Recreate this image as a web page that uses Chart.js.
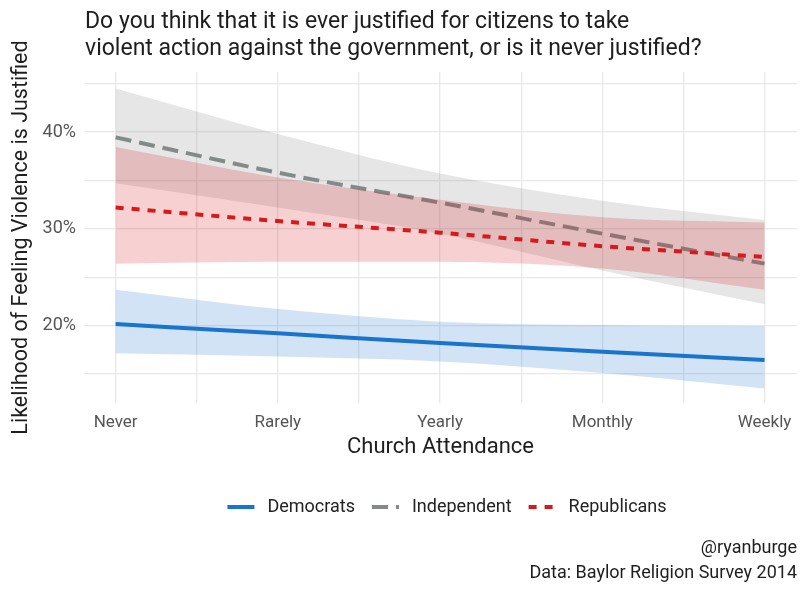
<!DOCTYPE html>
<html>
<head>
<meta charset="utf-8">
<script src="https://cdn.jsdelivr.net/npm/chart.js@4.4.1/dist/chart.umd.min.js"></script>
<style>
  html, body { margin: 0; padding: 0; background: #fff; }
  canvas { display: block; }
</style>
</head>
<body>
<canvas id="chart" width="807" height="596"></canvas>
<script>
// values (percent)
const categories = ['Never', 'Rarely', 'Yearly', 'Monthly', 'Weekly'];
const yTicks = [15, 20, 25, 30, 35, 40, 45];

const demFit = [20.15, 19.2, 18.2, 17.3, 16.45];
const demUpper = [23.7, 21.7, 20.4, 20.05, 19.95];
const demLower = [17.15, 16.8, 16.3, 15.1, 13.5];

const indFit = [39.45, 35.8, 32.7, 29.5, 26.4];
const indUpper = [44.5, 39.8, 35.7, 32.9, 30.9];
const indLower = [34.7, 32.2, 29.5, 25.7, 22.2];

const repFit = [32.2, 30.8, 29.6, 28.2, 27.1];
const repUpper = [38.45, 35.3, 33.0, 31.2, 30.65];
const repLower = [26.4, 26.6, 26.6, 25.9, 23.7];

const titleLines = [
    'Do you think that it is ever justified for citizens to take',
    'violent action against the government, or is it never justified?',
];
const captionLines = ['@ryanburge', 'Data: Baylor Religion Survey 2014'];

const BLUE = '#1874cd';
const GREY = '#828a8a';
const RED = '#d7191c';

const toPoints = (values) => values.map((y, i) => ({ x: i, y }));

function lineSet(label, values, color, dash, order) {
    return {
        label,
        data: toPoints(values),
        borderColor: color,
        borderWidth: 4,
        borderDash: dash,
        pointRadius: 0,
        fill: false,
        cubicInterpolationMode: 'monotone',
        order,
        inLegend: true,
    };
}

function bandSet(upper, lower, fillColor, order) {
    const common = {
        borderWidth: 0,
        pointRadius: 0,
        cubicInterpolationMode: 'monotone',
        order,
    };
    return [
        { ...common, label: 'upper', data: toPoints(upper), fill: '+1', backgroundColor: fillColor },
        { ...common, label: 'lower', data: toPoints(lower), fill: false },
    ];
}

const datasets = [
    ...bandSet(demUpper, demLower, 'rgba(24,116,205,0.2)', 6),
    ...bandSet(indUpper, indLower, 'rgba(128,128,128,0.2)', 5),
    ...bandSet(repUpper, repLower, 'rgba(215,25,28,0.2)', 2),
    lineSet('Democrats', demFit, BLUE, [], 4),
    lineSet('Independent', indFit, GREY, [16, 8], 3),
    lineSet('Republicans', repFit, RED, [8, 8], 1),
];

const textPlugin = {
    id: 'texts',
    afterDraw(chart) {
        const { ctx, chartArea } = chart;
        ctx.save();

        // title
        ctx.fillStyle = '#1e1e1e';
        ctx.font = '23px Roboto';
        ctx.textAlign = 'left';
        ctx.textBaseline = 'middle';
        titleLines.forEach((t, i) => ctx.fillText(t, chartArea.left + 1, 22 + i * 27));

        // legend
        const items = chart.data.datasets.filter((d) => d.inLegend);
        ctx.font = '18px Roboto';
        const sample = 27;
        const gap = 13;
        const spacing = 17;
        const widths = items.map((d) => ctx.measureText(d.label).width);
        const total = widths.reduce((a, w) => a + sample + gap + w, 0) + spacing * (items.length - 1);
        let x = 447 - total / 2;
        const y = 507;
        items.forEach((d, i) => {
            ctx.beginPath();
            ctx.strokeStyle = d.borderColor;
            ctx.lineWidth = 4;
            ctx.setLineDash(d.borderDash);
            ctx.moveTo(x, y);
            ctx.lineTo(x + sample, y);
            ctx.stroke();
            ctx.setLineDash([]);
            ctx.fillStyle = '#222';
            ctx.fillText(d.label, x + sample + gap, y);
            x += sample + gap + widths[i] + spacing;
        });

        // caption
        ctx.textAlign = 'right';
        ctx.fillStyle = '#1e1e1e';
        captionLines.forEach((t, i) => ctx.fillText(t, chartArea.right, 548 + i * 25));

        ctx.restore();
    },
};

new Chart(document.getElementById('chart'), {
    type: 'line',
    data: { datasets },
    plugins: [textPlugin],
    options: {
        responsive: false,
        animation: false,
        layout: {
            padding: { top: 72, left: 0, right: 10, bottom: 133 },
        },
        plugins: {
            legend: { display: false },
            title: { display: false },
            tooltip: { enabled: false },
            filler: { drawTime: 'beforeDatasetDraw' },
        },
        scales: {
            x: {
                type: 'linear',
                min: -0.195,
                max: 4.2,
                afterBuildTicks: (scale) => {
                    scale.ticks = [0, 0.5, 1, 1.5, 2, 2.5, 3, 3.5, 4].map((value) => ({ value }));
                },
                afterFit: (scale) => {
                    scale.height = 60;
                },
                grid: { color: '#e8e8e8', lineWidth: 1.3, drawTicks: false },
                border: { display: false },
                ticks: {
                    autoSkip: false,
                    maxRotation: 0,
                    padding: 10,
                    color: '#555',
                    font: { family: 'Roboto', size: 17 },
                    callback: (v) => (Number.isInteger(v) ? categories[v] : ''),
                },
                title: {
                    display: true,
                    text: 'Church Attendance',
                    color: '#1e1e1e',
                    font: { family: 'Roboto', size: 22 },
                    padding: { top: 0, bottom: 2 },
                },
            },
            y: {
                min: 12.0,
                max: 46.2,
                afterBuildTicks: (scale) => {
                    scale.ticks = yTicks.map((value) => ({ value }));
                },
                afterFit: (scale) => {
                    scale.width = 84;
                },
                grid: { color: '#e8e8e8', lineWidth: 1.3, drawTicks: false },
                border: { display: false },
                ticks: {
                    padding: 8,
                    color: '#555',
                    font: { family: 'Roboto', size: 18 },
                    callback: (v) => (v % 10 === 0 ? v + '%' : ''),
                },
                title: {
                    display: true,
                    text: 'Likelihood of Feeling Violence is Justified',
                    color: '#1e1e1e',
                    font: { family: 'Roboto', size: 21.5 },
                    padding: { top: 9, bottom: 0 },
                },
            },
        },
    },
});
</script>
</body>
</html>
